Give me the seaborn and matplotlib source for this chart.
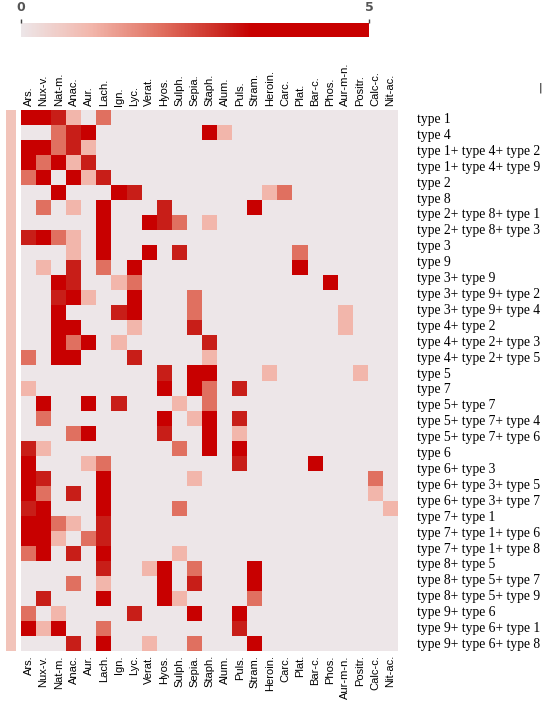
import numpy as np
import pandas as pd
import matplotlib
matplotlib.use("Agg")
import matplotlib.pyplot as plt
import seaborn as sns
from matplotlib.colors import LinearSegmentedColormap

remedies = ["Ars.", "Nux-v.", "Nat-m.", "Anac.", "Aur.", "Lach.", "Ign.", "Lyc.", "Verat.", "Hyos.",
            "Sulph.", "Sepia.", "Staph.", "Alum.", "Puls.", "Stram.", "Heroin.", "Carc.", "Plat.",
            "Bar-c.", "Phos.", "Aur-m-n.", "Positr.", "Calc-c.", "Nit-ac."]

type_labels = ["type 1", "type 4", "type 1+ type 4+ type 2", "type 1+ type 4+ type 9", "type 2", "type 8",
               "type 2+ type 8+ type 1", "type 2+ type 8+ type 3", "type 3", "type 9", "type 3+ type 9",
               "type 3+ type 9+ type 2", "type 3+ type 9+ type 4", "type 4+ type 2", "type 4+ type 2+ type 3",
               "type 4+ type 2+ type 5", "type 5", "type 7", "type 5+ type 7", "type 5+ type 7+ type 4",
               "type 5+ type 7+ type 6", "type 6", "type 6+ type 3", "type 6+ type 3+ type 5",
               "type 6+ type 3+ type 7", "type 7+ type 1", "type 7+ type 1+ type 6", "type 7+ type 1+ type 8",
               "type 8+ type 5", "type 8+ type 5+ type 7", "type 8+ type 5+ type 9", "type 9+ type 6",
               "type 9+ type 6+ type 1", "type 9+ type 6+ type 8"]

# per grid row: {remedy column index: score}
row_scores = [
    {0: 5, 1: 5, 2: 3, 3: 1, 5: 2},
    {2: 2, 3: 3, 4: 5, 12: 5, 13: 1},
    {0: 5, 1: 5, 2: 2, 3: 3, 4: 1},
    {0: 5, 1: 2, 2: 5, 3: 1, 4: 3},
    {0: 2, 1: 5, 3: 5, 4: 1, 5: 3},
    {2: 5, 6: 5, 7: 3, 16: 1, 17: 2},
    {1: 2, 3: 1, 5: 5, 9: 3, 15: 5},
    {5: 5, 8: 5, 9: 3, 10: 2, 12: 1},
    {0: 3, 1: 5, 2: 2, 3: 1, 5: 5},
    {3: 1, 5: 5, 8: 5, 10: 3, 18: 2},
    {1: 1, 3: 3, 5: 2, 7: 5, 18: 5},
    {2: 5, 3: 3, 6: 1, 7: 2, 20: 5},
    {2: 3, 3: 5, 4: 1, 7: 5, 11: 2},
    {2: 5, 6: 3, 7: 5, 11: 2, 21: 1},
    {2: 5, 3: 5, 7: 1, 11: 3, 21: 1},
    {2: 5, 3: 2, 4: 5, 6: 1, 12: 3},
    {0: 2, 2: 5, 3: 5, 7: 3, 12: 1},
    {9: 3, 11: 5, 12: 5, 16: 1, 22: 1},
    {0: 1, 9: 5, 11: 5, 12: 2, 14: 3},
    {1: 5, 4: 5, 6: 3, 10: 1, 12: 2},
    {1: 2, 9: 5, 11: 1, 12: 5, 14: 3},
    {3: 2, 4: 5, 9: 3, 12: 5, 14: 1},
    {0: 3, 1: 1, 10: 2, 12: 5, 14: 5},
    {0: 5, 4: 1, 5: 2, 14: 3, 19: 5},
    {0: 5, 1: 3, 5: 5, 11: 1, 23: 2},
    {0: 5, 1: 2, 3: 3, 5: 5, 23: 1},
    {0: 3, 1: 5, 5: 5, 10: 2, 24: 1},
    {0: 5, 1: 5, 2: 2, 3: 1, 5: 3},
    {0: 5, 1: 5, 2: 1, 4: 2, 5: 3},
    {0: 2, 1: 5, 3: 3, 5: 5, 10: 1},
    {5: 3, 8: 1, 9: 5, 11: 2, 15: 5},
    {3: 2, 5: 1, 9: 5, 11: 3, 15: 5},
    {1: 3, 5: 5, 9: 5, 10: 1, 15: 2},
    {0: 2, 2: 1, 7: 3, 11: 5, 14: 5},
    {0: 5, 1: 1, 2: 5, 5: 2, 14: 3},
    {3: 3, 5: 5, 8: 1, 11: 2, 15: 5},
]

mat = np.zeros((len(row_scores), len(remedies)))
for r, d in enumerate(row_scores):
    for c, v in d.items():
        mat[r, c] = v
df = pd.DataFrame(mat, columns=remedies)

cmap = LinearSegmentedColormap.from_list("redscale", [
    (0.0, "#ede6e8"), (0.2, "#f2b6ab"), (0.4, "#e07060"), (0.6, "#c81e18"),
    (0.66, "#c80000"), (1.0, "#c80000")])

fig = plt.figure(figsize=(5.5, 7.09), dpi=100)
W, H = 550, 709
def rect(l, t, r, b):
    return [l / W, 1 - b / H, (r - l) / W, (b - t) / H]

ax = fig.add_axes(rect(21, 110, 398, 651))
cax = fig.add_axes(rect(21, 23, 369, 37))
sax = fig.add_axes(rect(6, 110, 16, 651))

sns.heatmap(df, ax=ax, cmap=cmap, vmin=0, vmax=5, cbar_ax=cax,
            cbar_kws={"orientation": "horizontal", "ticks": [0, 5]},
            xticklabels=True, yticklabels=False)

ax.set_xticklabels(remedies, rotation=90, fontsize=8, family="Liberation Sans")
ax.tick_params(axis="x", labeltop=True, labelbottom=True, length=0, pad=3)
plt.setp(ax.get_xticklabels(), rotation=90)

n = len(type_labels)
nrows = mat.shape[0]
ypos = [(i + 0.5) * nrows / n for i in range(n)]
ax.set_yticks(ypos)
ax.set_yticklabels(type_labels, family="Liberation Serif", fontsize=9.8)
ax.tick_params(axis="y", left=False, labelleft=False, right=False, labelright=True, length=0, pad=14)
ax.set_xlabel("")
ax.set_ylabel("")

cax.xaxis.set_ticks_position("top")
cax.tick_params(axis="x", labelsize=9, length=3, width=1, color="#444444")
cax.set_xticklabels(["0", "5"], fontweight="bold", color="#555555", family="DejaVu Sans")
for s in cax.spines.values():
    s.set_visible(False)

strip = np.ones((nrows, 1))
sns.heatmap(pd.DataFrame(strip), ax=sax, cmap=LinearSegmentedColormap.from_list("s", ["#f2c4ba", "#f2c4ba"]),
            cbar=False, xticklabels=False, yticklabels=False)

fig.text(540 / W, 1 - 88 / H, "|", fontsize=8, ha="center", va="center")

fig.savefig("out.png", dpi=100)
